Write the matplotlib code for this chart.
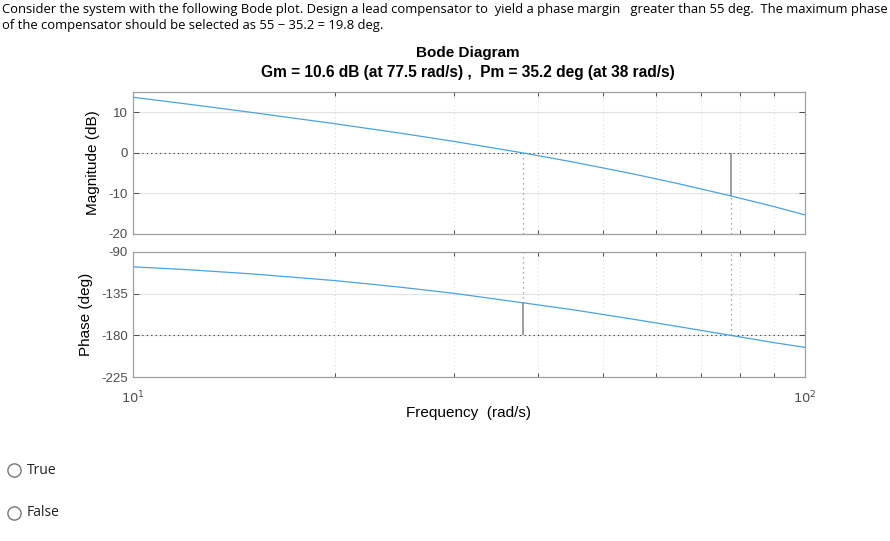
import matplotlib.pyplot as plt
from matplotlib.lines import Line2D
from matplotlib.ticker import FixedLocator, NullFormatter

# values
freq = [10, 12, 15, 20, 25, 30, 38, 45, 55, 65, 77.5, 90, 100]
mag_db = [13.7, 12.06, 9.97, 7.16, 4.85, 2.83, 0.0, -2.21, -5.06, -7.65, -10.6, -13.27, -15.3]
phase_deg = [-106.0, -109.0, -113.6, -120.9, -128.0, -134.6, -144.8, -152.2, -162.1, -170.7, -180.0, -187.9, -193.0]

gm_db, gm_freq = 10.6, 77.5
pm_deg, pm_freq = 35.2, 38

mag_ticks = [-20, -10, 0, 10]
phase_ticks = [-225, -180, -135, -90]

line_col = '#4aa3e0'
grey = '#8c8c8c'

plt.rcParams['font.family'] = ['Liberation Sans', 'DejaVu Sans']
plt.rcParams['axes.unicode_minus'] = False

fig = plt.figure(figsize=(8.9, 5.41), dpi=100)
ax1 = fig.add_axes([0.1494, 0.5675, 0.7551, 0.2625])
ax2 = fig.add_axes([0.1494, 0.3031, 0.7551, 0.2311])

minor = [20, 30, 40, 50, 60, 70, 80, 90]

for ax in (ax1, ax2):
    ax.set_xscale('log')
    ax.set_xlim(10, 100)
    ax.xaxis.set_minor_locator(FixedLocator(minor))
    ax.xaxis.set_minor_formatter(NullFormatter())
    for x in minor:
        ax.axvline(x, color='#d6d6d6', lw=0.7, ls=(0, (1, 3)), zorder=0)
    ax.tick_params(which='both', direction='in', top=True, right=True,
                   colors='#4d4d4d', labelcolor='#4d4d4d', labelsize=9.5,
                   width=0.7)
    ax.tick_params(which='major', length=4)
    ax.tick_params(which='minor', length=3)
    for s in ax.spines.values():
        s.set_color('#a0a0a0')
        s.set_linewidth(0.9)

# magnitude
ax1.set_ylim(-20, 15)
ax1.set_yticks(mag_ticks)
for y in mag_ticks:
    ax1.axhline(y, color='#e3e3e3', lw=0.8, zorder=0)
ax1.axhline(0, color='#333333', lw=0.8, ls=(0, (1, 3)), zorder=1)
ax1.plot(freq, mag_db, color=line_col, lw=0.9, zorder=3)
ax1.set_xticks([10, 100])
ax1.set_xticklabels([])
ax1.vlines(gm_freq, -gm_db, 0, color=grey, lw=1.2, zorder=2)
ax1.vlines(gm_freq, -20, -gm_db, color=grey, lw=0.9, ls=(0, (1, 3)), zorder=2)
ax1.vlines(pm_freq, -20, 0, color=grey, lw=0.9, ls=(0, (1, 3)), zorder=2)
ax1.set_ylabel('Magnitude (dB)', fontsize=11)
ax1.yaxis.set_label_coords(-0.049, 0.5)

# phase
ax2.set_ylim(-225, -90)
ax2.set_yticks(phase_ticks)
for y in phase_ticks:
    ax2.axhline(y, color='#e3e3e3', lw=0.8, zorder=0)
ax2.axhline(-180, color='#333333', lw=0.8, ls=(0, (1, 3)), zorder=1)
ax2.plot(freq, phase_deg, color=line_col, lw=0.9, zorder=3)
ax2.vlines(pm_freq, -180, -180 + pm_deg, color=grey, lw=1.2, zorder=2)
ax2.vlines(pm_freq, -180 + pm_deg, -90, color=grey, lw=0.9, ls=(0, (1, 3)), zorder=2)
ax2.vlines(gm_freq, -180, -90, color=grey, lw=0.9, ls=(0, (1, 3)), zorder=2)
ax2.set_xticks([10, 100])
ax2.set_xticklabels(['$10^1$', '$10^2$'])
ax2.tick_params(axis='x', pad=9)
ax2.set_ylabel('Phase (deg)', fontsize=11)
ax2.yaxis.set_label_coords(-0.060, 0.5)
ax2.set_xlabel('Frequency  (rad/s)', fontsize=11, labelpad=0)

fig.text(0.526, 1 - 53 / 541, 'Bode Diagram', ha='center', va='center',
         fontsize=11, fontweight='bold')
fig.text(0.526, 1 - 73 / 541,
         'Gm = %.1f dB (at %.1f rad/s) ,  Pm = %.1f deg (at %d rad/s)' % (gm_db, gm_freq, pm_deg, pm_freq),
         ha='center', va='center', fontsize=11.2, fontweight='bold')

# question text
q = ['Consider the system with the following Bode plot. Design a lead compensator to  yield a phase margin   greater than 55 deg.  The maximum phase',
     'of the compensator should be selected as 55 \u2212 35.2 = 19.8 deg.']
fig.text(0.002, 1 - 9 / 541, q[0], ha='left', va='center', fontsize=9.4, family='Open Sans')
fig.text(0.002, 1 - 25 / 541, q[1], ha='left', va='center', fontsize=9.4, family='Open Sans')

# answer options
for label, ypx in [('True', 470), ('False', 513)]:
    yf = 1 - ypx / 541
    fig.add_artist(Line2D([14 / 890], [yf], marker='o', markersize=9.5,
                          mfc='white', mec='#777777', mew=1.0,
                          transform=fig.transFigure))
    fig.text(27 / 890, yf, label, ha='left', va='center', fontsize=10,
             family='Open Sans', color='#222222')

fig.savefig('out.png', dpi=100)
